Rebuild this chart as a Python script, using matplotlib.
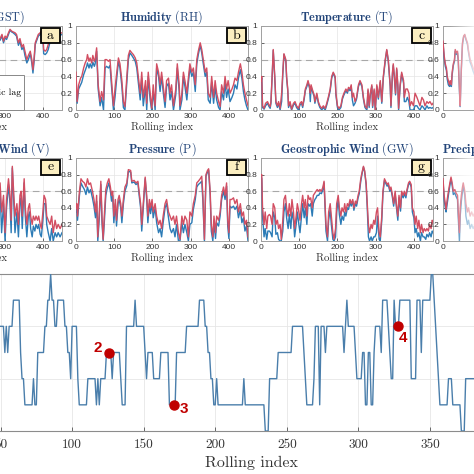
import numpy as np
import matplotlib
matplotlib.use('Agg')
import matplotlib.pyplot as plt
from matplotlib.patches import Rectangle
from matplotlib.lines import Line2D

plt.rcParams['mathtext.fontset'] = 'cm'
plt.rcParams['font.family'] = ['Liberation Sans', 'DejaVu Sans']

# ---------------- data ----------------
# a: wind gust (only the right end is visible)
gst_idx = [270, 280, 284, 288, 293, 297, 301, 305, 310, 314, 318, 322, 327, 331, 336, 340, 345, 349, 353, 358,
           362, 367, 371, 374, 377, 380, 384, 388, 393, 397, 400, 402, 406, 410, 414, 419, 425, 432, 440, 450]
gst_dyn = [0.85, 0.88, 0.86, 0.85, 0.90, 0.82, 0.88, 0.86, 0.92, 0.96, 0.94, 0.93, 0.92, 0.90, 0.80, 0.85, 0.75, 0.78, 0.70, 0.60,
           0.65, 0.70, 0.60, 0.48, 0.62, 0.80, 0.85, 0.90, 0.92, 0.95, 0.90, 0.72, 0.70, 0.72, 0.78, 0.85, 0.90, 0.92, 0.90, 0.92]
gst_sta = [0.83, 0.86, 0.84, 0.83, 0.88, 0.80, 0.86, 0.84, 0.90, 0.95, 0.93, 0.92, 0.90, 0.88, 0.77, 0.82, 0.72, 0.75, 0.65, 0.56,
           0.60, 0.67, 0.56, 0.44, 0.58, 0.78, 0.83, 0.88, 0.90, 0.93, 0.88, 0.67, 0.66, 0.68, 0.72, 0.82, 0.88, 0.90, 0.88, 0.90]

# b: humidity
rh_idx = [0, 3, 7, 12, 15, 20, 24, 28, 30, 34, 37, 41, 44, 48, 50, 54, 58, 63, 67, 72,
          76, 80, 85, 89, 93, 98, 102, 106, 111, 115, 120, 124, 128, 133, 137, 141, 146, 150, 155, 159,
          163, 168, 172, 176, 182, 185, 189, 194, 198, 202, 207, 211, 216, 220, 224, 229, 233, 237, 242, 246,
          250, 255, 261, 265, 270, 272, 277, 281, 285, 290, 294, 298, 303, 307, 312, 316, 320, 325, 329, 333,
          338, 342, 346, 351, 355, 360, 364, 368, 373, 377, 381, 386, 390, 394, 398, 403, 408, 412, 416, 421,
          425, 430, 434, 438, 442, 446, 450]
rh_dyn = [0.45, 0.10, 0.30, 0.38, 0.40, 0.50, 0.56, 0.60, 0.66, 0.58, 0.62, 0.56, 0.65, 0.58, 0.60, 0.74, 0.30, 0.10, 0.22, 0.12,
          0.60, 0.60, 0.58, 0.60, 0.35, 0.05, 0.25, 0.42, 0.62, 0.55, 0.35, 0.10, 0.04, 0.40, 0.65, 0.71, 0.68, 0.66, 0.62, 0.56,
          0.40, 0.20, 0.45, 0.15, 0.35, 0.08, 0.45, 0.20, 0.02, 0.30, 0.05, 0.55, 0.45, 0.30, 0.45, 0.25, 0.10, 0.35, 0.38, 0.20,
          0.30, 0.05, 0.25, 0.55, 0.30, 0.05, 0.20, 0.45, 0.35, 0.20, 0.38, 0.55, 0.45, 0.50, 0.30, 0.60, 0.70, 0.80, 0.72, 0.60,
          0.45, 0.50, 0.20, 0.15, 0.40, 0.15, 0.35, 0.20, 0.10, 0.04, 0.30, 0.20, 0.40, 0.25, 0.35, 0.20, 0.25, 0.30, 0.38, 0.35,
          0.45, 0.55, 0.45, 0.30, 0.20, 0.12, 0.05]
rh_sta = [0.40, 0.08, 0.25, 0.30, 0.33, 0.42, 0.47, 0.52, 0.56, 0.50, 0.55, 0.50, 0.57, 0.52, 0.55, 0.70, 0.25, 0.05, 0.15, 0.00,
          0.50, 0.52, 0.50, 0.53, 0.28, 0.00, 0.15, 0.35, 0.58, 0.50, 0.28, 0.03, 0.00, 0.33, 0.60, 0.68, 0.65, 0.62, 0.58, 0.50,
          0.33, 0.12, 0.38, 0.05, 0.28, 0.00, 0.40, 0.12, 0.00, 0.22, 0.00, 0.50, 0.40, 0.22, 0.40, 0.18, 0.03, 0.28, 0.32, 0.12,
          0.22, 0.00, 0.18, 0.50, 0.22, 0.00, 0.12, 0.40, 0.28, 0.12, 0.32, 0.50, 0.40, 0.45, 0.22, 0.55, 0.66, 0.77, 0.68, 0.55,
          0.40, 0.45, 0.12, 0.08, 0.33, 0.08, 0.28, 0.12, 0.03, 0.00, 0.22, 0.12, 0.32, 0.15, 0.25, 0.10, 0.15, 0.20, 0.30, 0.25,
          0.38, 0.48, 0.38, 0.22, 0.12, 0.05, 0.00]

# c: temperature
t_idx = [0, 2, 4, 8, 12, 17, 21, 24, 26, 30, 32, 36, 39, 43, 46, 50, 54, 57, 60, 65,
         67, 70, 72, 76, 80, 85, 89, 93, 98, 102, 106, 109, 113, 116, 120, 123, 127, 129, 131, 134,
         139, 141, 146, 150, 154, 159, 163, 168, 172, 176, 181, 185, 189, 194, 196, 200, 204, 209, 213, 217,
         222, 226, 229, 233, 236, 239, 242, 246, 250, 255, 259, 264, 268, 272, 277, 280, 283, 286, 290, 292,
         296, 299, 303, 307, 312, 316, 320, 325, 329, 333, 338, 340, 344, 346, 349, 352, 355, 358, 360, 364,
         368, 373, 375, 379, 383, 387, 390, 394, 399, 403, 408, 412, 416, 421, 425, 429, 434, 438, 442, 447, 450]
t_dyn = [0.35, 0.40, 0.05, 0.02, 0.08, 0.10, 0.06, 0.04, 0.10, 0.50, 0.72, 0.40, 0.10, 0.05, 0.10, 0.02, 0.20, 0.45, 0.67, 0.60,
         0.40, 0.25, 0.05, 0.10, 0.01, 0.08, 0.10, 0.05, 0.02, 0.08, 0.10, 0.05, 0.15, 0.25, 0.30, 0.35, 0.28, 0.20, 0.30, 0.25,
         0.18, 0.10, 0.20, 0.10, 0.05, 0.02, 0.05, 0.02, 0.08, 0.15, 0.25, 0.40, 0.45, 0.40, 0.20, 0.05, 0.02, 0.05, 0.15, 0.20,
         0.25, 0.22, 0.27, 0.25, 0.30, 0.15, 0.20, 0.10, 0.15, 0.30, 0.35, 0.30, 0.15, 0.05, 0.02, 0.25, 0.05, 0.20, 0.30, 0.05,
         0.25, 0.00, 0.30, 0.15, 0.35, 0.10, 0.40, 0.60, 0.72, 0.60, 0.30, 0.05, 0.45, 0.55, 0.40, 0.20, 0.50, 0.30, 0.02, 0.30,
         0.45, 0.35, 0.15, 0.25, 0.25, 0.20, 0.05, 0.10, 0.05, 0.20, 0.15, 0.10, 0.05, 0.15, 0.12, 0.05, 0.10, 0.08, 0.10, 0.06, 0.08]
t_sta = [0.33, 0.38, 0.03, 0.01, 0.05, 0.08, 0.04, 0.02, 0.08, 0.48, 0.71, 0.38, 0.08, 0.03, 0.08, 0.00, 0.10, 0.42, 0.66, 0.58,
         0.38, 0.23, 0.03, 0.08, 0.00, 0.06, 0.08, 0.03, 0.00, 0.06, 0.08, 0.03, 0.13, 0.23, 0.28, 0.33, 0.26, 0.10, 0.28, 0.23,
         0.16, 0.08, 0.18, 0.08, 0.03, 0.00, 0.03, 0.00, 0.06, 0.13, 0.23, 0.38, 0.44, 0.38, 0.18, 0.03, 0.00, 0.03, 0.13, 0.18,
         0.23, 0.20, 0.25, 0.23, 0.28, 0.12, 0.05, 0.08, 0.13, 0.28, 0.33, 0.28, 0.13, 0.03, 0.00, 0.23, 0.03, 0.18, 0.28, 0.03,
         0.23, 0.00, 0.28, 0.13, 0.33, 0.08, 0.38, 0.58, 0.71, 0.58, 0.28, 0.03, 0.43, 0.53, 0.38, 0.18, 0.48, 0.28, 0.00, 0.28,
         0.43, 0.32, 0.10, 0.10, 0.15, 0.10, 0.00, 0.00, 0.00, 0.05, 0.05, 0.02, 0.00, 0.05, 0.03, 0.00, 0.05, 0.02, 0.03, 0.02, 0.03]

# d: dew point (only the left end is visible)
dp_idx = [0, 3, 6, 9, 11, 14, 17, 19, 22, 24, 27, 30, 32, 35, 38, 40, 43, 45, 48, 51,
          54, 57, 60, 64, 67, 71, 75, 79, 84, 90]
dp_dyn = [0.82, 0.65, 0.55, 0.50, 0.40, 0.35, 0.30, 0.35, 0.30, 0.45, 0.55, 0.60, 0.72, 0.68, 0.70, 0.60, 0.25, 0.05, 0.50, 0.80,
          0.88, 0.90, 0.85, 0.80, 0.70, 0.60, 0.55, 0.50, 0.45, 0.40]
dp_sta = [0.80, 0.62, 0.52, 0.47, 0.37, 0.30, 0.28, 0.30, 0.28, 0.42, 0.53, 0.58, 0.70, 0.66, 0.68, 0.58, 0.22, 0.04, 0.48, 0.78,
          0.87, 0.89, 0.84, 0.78, 0.68, 0.57, 0.52, 0.46, 0.40, 0.35]

# e: meridional wind (only the right end is visible)
v_idx = [270, 276, 280, 284, 288, 292, 297, 301, 305, 310, 314, 317, 320, 324, 327, 332, 336, 340, 343, 346,
         351, 354, 358, 362, 365, 368, 372, 375, 379, 382, 386, 389, 393, 396, 400, 403, 407, 410, 414, 419,
         423, 427, 432, 436, 440, 445, 450]
v_dyn = [0.50, 0.40, 0.55, 0.60, 0.70, 0.35, 0.55, 0.10, 0.50, 0.75, 0.55, 0.25, 0.90, 0.55, 0.30, 0.45, 0.20, 0.55, 0.60, 0.30,
         0.75, 0.40, 0.20, 0.40, 0.45, 0.30, 0.20, 0.30, 0.25, 0.30, 0.25, 0.30, 0.20, 0.15, 0.35, 0.55, 0.50, 0.30, 0.25, 0.20,
         0.30, 0.10, 0.25, 0.15, 0.20, 0.15, 0.20]
v_sta = [0.40, 0.30, 0.45, 0.50, 0.62, 0.10, 0.45, 0.00, 0.40, 0.68, 0.45, 0.10, 0.88, 0.45, 0.10, 0.35, 0.05, 0.45, 0.52, 0.15,
         0.70, 0.30, 0.05, 0.30, 0.35, 0.15, 0.05, 0.18, 0.12, 0.20, 0.15, 0.20, 0.08, 0.05, 0.25, 0.45, 0.45, 0.20, 0.10, 0.00,
         0.15, 0.00, 0.10, 0.05, 0.10, 0.05, 0.10]

# f: pressure
p_idx = [0, 2, 4, 9, 13, 17, 22, 26, 30, 34, 38, 43, 47, 51, 54, 57, 61, 65, 68, 71,
         74, 78, 82, 86, 90, 93, 96, 99, 103, 106, 110, 113, 117, 120, 124, 128, 133, 137, 143, 146,
         152, 157, 162, 165, 169, 172, 176, 181, 185, 188, 192, 195, 199, 202, 207, 211, 216, 220, 224, 228,
         233, 237, 242, 246, 250, 255, 259, 263, 268, 272, 277, 281, 285, 290, 294, 298, 303, 307, 312, 316,
         320, 325, 329, 332, 336, 340, 344, 347, 351, 354, 358, 361, 365, 368, 373, 377, 381, 386, 390, 394,
         397, 400, 403, 407, 412, 416, 421, 425, 430, 434, 438, 442, 446, 450]
p_dyn = [0.40, 0.45, 0.30, 0.60, 0.75, 0.72, 0.70, 0.65, 0.75, 0.68, 0.70, 0.60, 0.50, 0.35, 0.55, 0.05, 0.35, 0.72, 0.30, 0.02,
         0.30, 0.62, 0.70, 0.75, 0.65, 0.55, 0.60, 0.30, 0.50, 0.25, 0.50, 0.55, 0.45, 0.30, 0.50, 0.65, 0.70, 0.86, 0.85, 0.72,
         0.73, 0.70, 0.72, 0.60, 0.45, 0.20, 0.45, 0.77, 0.55, 0.30, 0.50, 0.40, 0.50, 0.35, 0.45, 0.30, 0.20, 0.25, 0.15, 0.30,
         0.45, 0.50, 0.35, 0.30, 0.25, 0.30, 0.20, 0.30, 0.10, 0.02, 0.30, 0.20, 0.30, 0.25, 0.05, 0.35, 0.30, 0.45, 0.55, 0.70,
         0.72, 0.75, 0.78, 0.55, 0.02, 0.80, 0.85, 0.87, 0.60, 0.20, 0.05, 0.30, 0.10, 0.30, 0.25, 0.35, 0.55, 0.65, 0.55, 0.70,
         0.25, 0.10, 0.50, 0.50, 0.52, 0.45, 0.50, 0.35, 0.45, 0.30, 0.35, 0.20, 0.25, 0.05]
p_sta = [0.35, 0.40, 0.25, 0.55, 0.70, 0.66, 0.62, 0.56, 0.65, 0.58, 0.62, 0.52, 0.42, 0.28, 0.48, 0.00, 0.28, 0.68, 0.22, 0.00,
         0.22, 0.55, 0.64, 0.70, 0.60, 0.48, 0.55, 0.22, 0.45, 0.18, 0.45, 0.50, 0.40, 0.22, 0.45, 0.60, 0.67, 0.84, 0.83, 0.70,
         0.71, 0.68, 0.70, 0.56, 0.40, 0.12, 0.40, 0.75, 0.50, 0.22, 0.45, 0.33, 0.45, 0.28, 0.40, 0.22, 0.10, 0.15, 0.05, 0.22,
         0.40, 0.45, 0.28, 0.15, 0.10, 0.15, 0.05, 0.20, 0.00, 0.00, 0.22, 0.10, 0.20, 0.10, 0.00, 0.20, 0.22, 0.38, 0.50, 0.65,
         0.68, 0.70, 0.72, 0.48, 0.00, 0.78, 0.83, 0.85, 0.55, 0.12, 0.00, 0.22, 0.03, 0.22, 0.18, 0.30, 0.50, 0.60, 0.50, 0.66,
         0.18, 0.03, 0.42, 0.40, 0.42, 0.38, 0.42, 0.28, 0.38, 0.22, 0.28, 0.12, 0.18, 0.00]

# g: geostrophic wind
gw_idx = [0, 2, 4, 8, 11, 15, 18, 22, 25, 29, 32, 36, 39, 43, 46, 50, 53, 57, 60, 64,
          67, 71, 74, 78, 81, 85, 88, 92, 95, 99, 102, 106, 109, 113, 116, 120, 123, 127, 130, 134,
          137, 141, 144, 147, 151, 154, 158, 162, 165, 168, 170, 174, 177, 181, 184, 188, 191, 195, 198, 202,
          205, 209, 212, 216, 219, 222, 226, 229, 233, 236, 240, 243, 247, 250, 254, 257, 261, 264, 268, 271,
          275, 278, 281, 284, 288, 291, 295, 298, 302, 305, 309, 312, 316, 319, 323, 326, 330, 333, 337, 340,
          344, 347, 351, 354, 358, 361, 365, 368, 372, 375, 379, 382, 386, 389, 393, 396, 400, 403, 406, 410,
          413, 417, 420, 424, 427, 431, 434, 438, 441, 445, 448, 450]
gw_dyn = [0.80, 0.80, 0.40, 0.20, 0.35, 0.15, 0.30, 0.32, 0.30, 0.20, 0.45, 0.40, 0.20, 0.25, 0.15, 0.20, 0.02, 0.25, 0.50, 0.55,
          0.40, 0.30, 0.45, 0.30, 0.50, 0.35, 0.15, 0.30, 0.45, 0.35, 0.25, 0.45, 0.55, 0.40, 0.50, 0.30, 0.55, 0.50, 0.52, 0.40,
          0.55, 0.58, 0.60, 0.62, 0.60, 0.62, 0.60, 0.65, 0.72, 0.40, 0.20, 0.05, 0.35, 0.45, 0.30, 0.10, 0.02, 0.15, 0.45, 0.55,
          0.40, 0.30, 0.40, 0.35, 0.45, 0.35, 0.45, 0.42, 0.50, 0.45, 0.50, 0.40, 0.48, 0.45, 0.55, 0.60, 0.75, 0.82, 0.90, 0.85,
          0.70, 0.45, 0.20, 0.10, 0.20, 0.15, 0.25, 0.20, 0.35, 0.40, 0.10, 0.05, 0.30, 0.60, 0.75, 0.72, 0.68, 0.70, 0.62, 0.65,
          0.55, 0.45, 0.60, 0.45, 0.30, 0.55, 0.40, 0.60, 0.55, 0.60, 0.55, 0.62, 0.70, 0.72, 0.68, 0.40, 0.35, 0.20, 0.30, 0.15,
          0.25, 0.10, 0.20, 0.10, 0.15, 0.12, 0.15, 0.12, 0.20, 0.15, 0.25, 0.22]
gw_sta = [0.78, 0.75, 0.30, 0.05, 0.15, 0.02, 0.12, 0.12, 0.10, 0.05, 0.35, 0.28, 0.08, 0.10, 0.02, 0.00, 0.00, 0.12, 0.35, 0.45,
          0.28, 0.15, 0.32, 0.15, 0.35, 0.25, 0.05, 0.20, 0.35, 0.20, 0.10, 0.30, 0.45, 0.28, 0.40, 0.20, 0.45, 0.42, 0.45, 0.30,
          0.45, 0.50, 0.52, 0.55, 0.55, 0.58, 0.57, 0.62, 0.70, 0.35, 0.12, 0.00, 0.25, 0.38, 0.20, 0.02, 0.00, 0.05, 0.35, 0.50,
          0.32, 0.20, 0.30, 0.25, 0.35, 0.30, 0.40, 0.38, 0.47, 0.42, 0.48, 0.37, 0.45, 0.42, 0.52, 0.57, 0.72, 0.80, 0.89, 0.84,
          0.68, 0.40, 0.05, 0.00, 0.05, 0.00, 0.05, 0.05, 0.10, 0.30, 0.02, 0.00, 0.25, 0.57, 0.73, 0.70, 0.66, 0.68, 0.60, 0.63,
          0.52, 0.42, 0.57, 0.42, 0.25, 0.52, 0.36, 0.57, 0.52, 0.57, 0.52, 0.60, 0.68, 0.70, 0.65, 0.35, 0.28, 0.10, 0.15, 0.05,
          0.10, 0.00, 0.10, 0.05, 0.05, 0.02, 0.08, 0.05, 0.10, 0.05, 0.12, 0.10]

# h: precipitable water (only the left end is visible)
pw_idx = [0, 3, 6, 8, 11, 15, 18, 21, 24, 27, 31, 34, 38, 40, 43, 45, 48, 51, 53, 57,
          60, 64, 67, 71, 75, 79, 84, 90]
pw_dyn = [0.75, 0.55, 0.45, 0.38, 0.50, 0.62, 0.70, 0.77, 0.70, 0.60, 0.62, 0.58, 0.55, 0.35, 0.10, 0.40, 0.55, 0.65, 0.70, 0.60,
          0.45, 0.35, 0.40, 0.30, 0.35, 0.30, 0.35, 0.30]
pw_sta = [0.72, 0.50, 0.40, 0.35, 0.45, 0.58, 0.67, 0.74, 0.67, 0.56, 0.58, 0.54, 0.50, 0.28, 0.00, 0.30, 0.48, 0.60, 0.66, 0.55,
          0.30, 0.20, 0.25, 0.15, 0.20, 0.15, 0.20, 0.15]

# bottom: selected lag, stored as runs (first rolling index of each run, lag level)
lag_start = [0, 12, 30, 40, 53, 54, 55, 56, 59, 64, 65, 67, 73, 74, 76, 81, 83, 85, 86, 88,
             90, 95, 97, 99, 100, 104, 105, 111, 117, 118, 119, 120, 124, 128, 129, 134, 135, 138, 144, 145,
             151, 152, 153, 157, 162, 168, 173, 180, 189, 193, 195, 197, 199, 201, 202, 220, 221, 235, 238, 244,
             254, 262, 263, 264, 269, 270, 273, 274, 277, 278, 290, 291, 292, 293, 298, 299, 303, 305, 307, 309,
             311, 312, 316, 317, 321, 322, 323, 325, 326, 329, 337, 341, 344, 345, 351, 353, 354, 355, 356, 357,
             363, 366, 372, 375, 386, 395, 404, 412, 425, 440]
lag_level = [3, 4, 5, 4, 3, 4, 3, 4, 5, 3, 2, 1, 2, 1, 3, 4, 5, 6, 5, 4,
             5, 4, 3, 2, 4, 2, 1, 2, 1, 2, 1, 2, 3, 2, 3, 2, 1, 4, 5, 4,
             3, 2, 3, 2, 3, 1, 3, 4, 5, 4, 3, 2, 1, 2, 1, 2, 1, 0, 2, 3,
             4, 3, 2, 1, 2, 4, 1, 4, 3, 4, 3, 4, 5, 4, 3, 2, 3, 1, 3, 1,
             3, 4, 3, 5, 4, 3, 2, 5, 4, 5, 2, 5, 3, 5, 6, 5, 4, 3, 2, 1,
             2, 1, 0, 2, 3, 2, 1, 2, 3, 2]
n_roll = 451
mark_idx = [126, 171, 328]
mark_lbl = ['2', '3', '4']

# ---------------- style ----------------
BLUE = '#2c7bb6'
RED = '#d24e62'
NAVY = '#24467a'
STEP = '#4a7eab'
MARK = '#c00000'

W = H = 474.0


def add_ax(fig, left, top, width, height):
    # positions in pixels of the 474x474 canvas (the figure is a crop)
    return fig.add_axes([left / W, 1 - (top + height) / H, width / W, height / H])


def lag_legend(ax):
    # boxed one-row legend sitting on the bottom axis (MATLAB style, big padding)
    ax.add_patch(Rectangle((-0.12, 0.0), 0.899, 0.417, transform=ax.transAxes, fc='white',
                           ec='#888888', lw=0.7, zorder=8, clip_on=False))
    for x0, col in [(-0.10, BLUE), (0.32, RED)]:
        ax.add_line(Line2D([x0, x0 + 0.07], [0.21, 0.21], transform=ax.transAxes, color=col,
                           lw=1.0, zorder=9, clip_on=False))
    ax.text(-0.02, 0.21, 'Static lag', transform=ax.transAxes, ha='left', va='center',
            fontfamily='cmr10', fontsize=7, zorder=9, clip_on=False)
    ax.text(0.762, 0.21, 'Dynamic lag', transform=ax.transAxes, ha='right', va='center',
            fontfamily='cmr10', fontsize=7, zorder=9, clip_on=False)


def panel(ax, idx, sta, dyn, letter, title):
    ax.plot(idx, sta, color=BLUE, lw=1.0, zorder=3)
    ax.plot(idx, dyn, color=RED, lw=1.0, zorder=4)
    ax.axhline(0.6, color='#a8a8a8', lw=0.8, ls=(0, (6, 4)), zorder=2)
    ax.set_xlim(0, 450)
    ax.set_ylim(0, 1)
    ax.set_xticks([0, 100, 200, 300, 400])
    ax.set_yticks([0, 0.2, 0.4, 0.6, 0.8, 1])
    ax.set_yticklabels(['0', '0.2', '0.4', '0.6', '0.8', '1'])
    ax.grid(True, color='#e4e4e4', lw=0.5)
    ax.set_axisbelow(True)
    ax.tick_params(direction='in', length=2, width=0.5, labelsize=6, colors='#333333', pad=2.5)
    for s in ax.spines.values():
        s.set_color('#a0a0a0')
        s.set_linewidth(0.7)
    ax.set_title(title, fontsize=8.8, color=NAVY, pad=3.5)
    ax.set_xlabel('Rolling index', fontfamily='cmr10', fontsize=7.8, color='#333333', labelpad=1)
    bw, bh = 19 / 172, 15 / 84
    ax.add_patch(Rectangle((1 - 0.012 - bw, 1 - 0.024 - bh), bw, bh, transform=ax.transAxes,
                           fc='#fbeec1', ec='black', lw=1.3, zorder=6))
    ax.text(1 - 0.012 - bw / 2, 1 - 0.024 - bh / 2, letter, transform=ax.transAxes,
            ha='center', va='center', fontfamily='cmr10', fontsize=10, zorder=7)


fig = plt.figure(figsize=(4.74, 4.74), dpi=100)

cols = [-110, 76, 261, 443]
row1 = [(gst_idx, gst_sta, gst_dyn, 'a', r'$\mathbf{Wind\ Gust}\ \mathrm{(GST)}$'),
        (rh_idx, rh_sta, rh_dyn, 'b', r'$\mathbf{Humidity}\ \mathrm{(RH)}$'),
        (t_idx, t_sta, t_dyn, 'c', r'$\mathbf{Temperature}\ \mathrm{(T)}$'),
        (dp_idx, dp_sta, dp_dyn, 'd', r'$\mathbf{Dew\ Point}\ \mathrm{(DP)}$')]
row2 = [(v_idx, v_sta, v_dyn, 'e', r'$\mathbf{Mean\ Meridional\ Wind}\ \mathrm{(V)}$'),
        (p_idx, p_sta, p_dyn, 'f', r'$\mathbf{Pressure}\ \mathrm{(P)}$'),
        (gw_idx, gw_sta, gw_dyn, 'g', r'$\mathbf{Geostrophic\ Wind}\ \mathrm{(GW)}$'),
        (pw_idx, pw_sta, pw_dyn, 'h', r'$\mathbf{Precipitable\ Water\ Vapor}\ \mathrm{(PW)}$')]

for k, (idx, sta, dyn, letter, title) in enumerate(row1):
    ax = add_ax(fig, cols[k], 26, 172, 84)
    panel(ax, idx, sta, dyn, letter, title)
    if letter == 'a':
        lag_legend(ax)
for k, (idx, sta, dyn, letter, title) in enumerate(row2):
    ax = add_ax(fig, cols[k], 158, 172, 83)
    panel(ax, idx, sta, dyn, letter, title)

# bottom panel: lag chosen in each rolling window
runs = np.diff(lag_start + [n_roll])
lag = np.repeat(lag_level, runs)
roll = np.arange(n_roll)

axb = add_ax(fig, -71, 274, 644, 157)
axb.plot(roll, lag, color=STEP, lw=1.0, zorder=3)
axb.plot(mark_idx, lag[mark_idx], 'o', color=MARK, ms=6.5, zorder=5)
offs = {'2': (-8, 3.6), '3': (7.7, -2.9), '4': (3.2, -8.6)}
for i, t in zip(mark_idx, mark_lbl):
    axb.annotate(t, (i, lag[i]), xytext=offs[t], textcoords='offset points', ha='center', va='center',
                 color=MARK, fontsize=11, fontweight='bold', zorder=6)
axb.set_xlim(0, 450)
axb.set_ylim(0, 6)
axb.set_xticks(np.arange(0, 451, 50))
axb.set_xticklabels([str(v) for v in range(0, 451, 50)], fontfamily='cmr10')
axb.set_yticks([0, 2, 4, 6])
axb.grid(True, color='#e6e6e6', lw=0.6)
axb.set_axisbelow(True)
axb.tick_params(direction='in', length=3, width=0.5, labelsize=9.6, colors='#333333', pad=6)
for s in axb.spines.values():
    s.set_color('#8c8c8c')
    s.set_linewidth(0.8)
axb.set_xlabel('Rolling index', fontfamily='cmr10', fontsize=11.5, color='#333333', labelpad=3)

# the source image fades out to white at its right edge over the small panels
fade = np.ones((1, 64, 4))
fade[0, :, 3] = np.linspace(0.0, 0.8, 64)
for top, hgt in [(26, 84), (158, 83)]:
    fx = fig.add_axes([450 / W, 1 - (top + hgt) / H, 24 / W, hgt / H])
    fx.imshow(fade, aspect='auto', extent=(0, 1, 0, 1))
    fx.set_axis_off()

fig.savefig('out.png', dpi=100)
